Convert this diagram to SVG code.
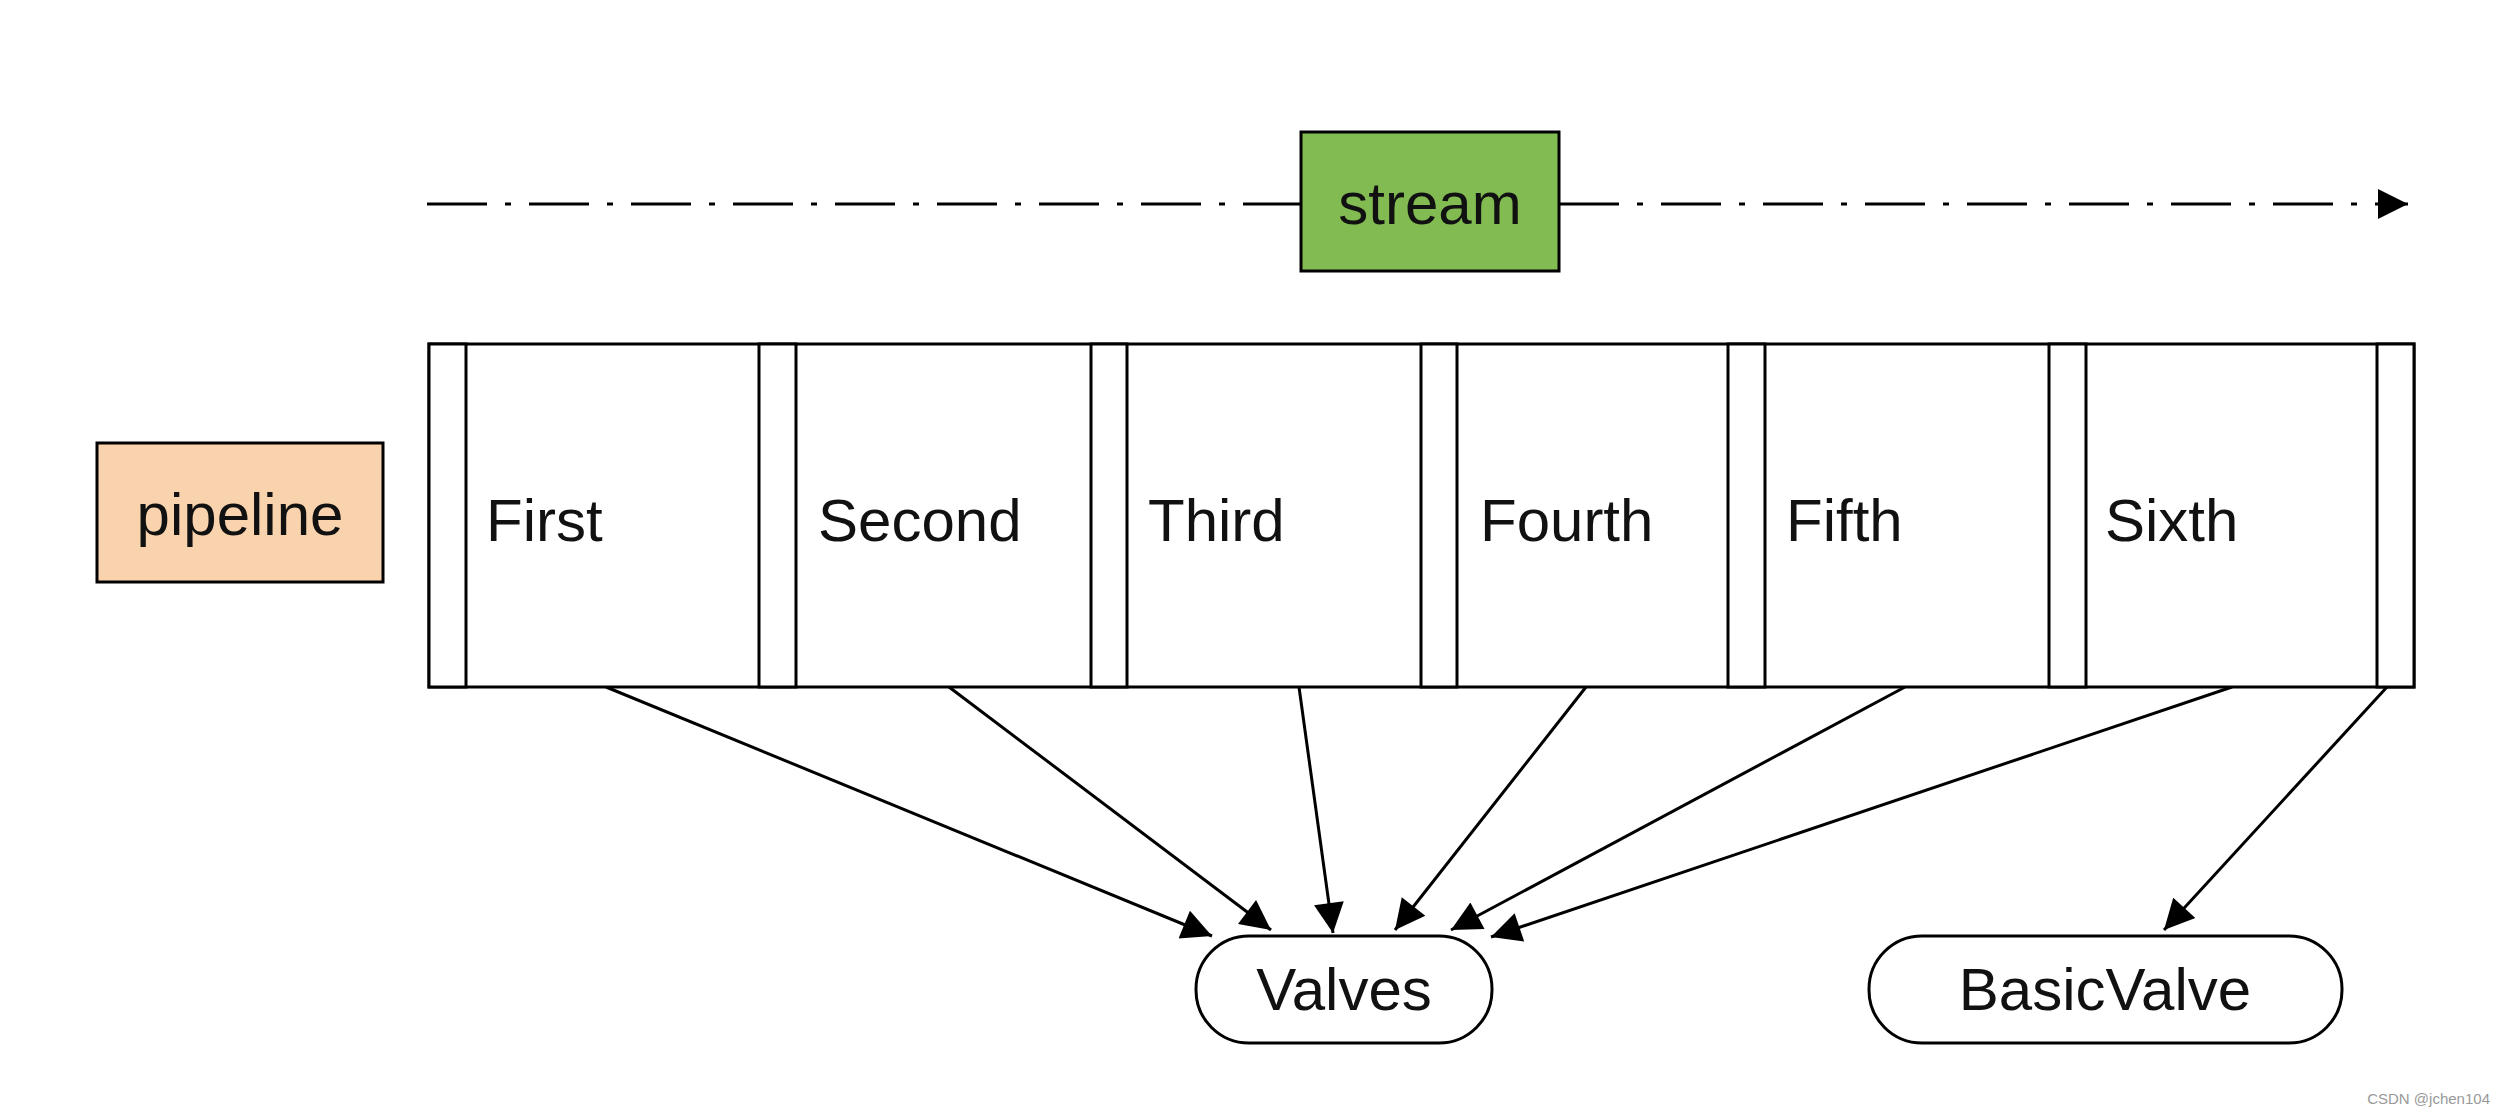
<svg xmlns="http://www.w3.org/2000/svg" width="2500" height="1114" viewBox="0 0 2500 1114">
<defs>
<style>
.b{fill:#fff;stroke:#000;stroke-width:3}
.t{font-family:"Liberation Sans",Arial,sans-serif;font-size:60px;fill:#111}
.c{stroke:#000;stroke-width:3;fill:none;marker-end:url(#a)}
</style>
<marker id="a" viewBox="0 0 10 10" refX="10" refY="5" markerWidth="12" markerHeight="12" markerUnits="userSpaceOnUse" orient="auto"><path d="M0,0L10,5L0,10z"/></marker>
<marker id="a2" viewBox="0 0 10 10" refX="10" refY="5" markerWidth="38" markerHeight="30" markerUnits="userSpaceOnUse" orient="auto"><path d="M0,0L10,5L0,10z"/></marker>
</defs>
<rect width="2500" height="1114" fill="#fff"/>
<g id="connectors">
<path d="M427,204H1301M1559,204H2408" stroke="#000" stroke-width="3" stroke-dasharray="60,18,6,18" fill="none" marker-end="url(#a2)"/>
<g style="marker-end:url(#a2)">
<path class="c" style="marker-end:url(#a2)" d="M606,687L1212,936"/>
<path class="c" style="marker-end:url(#a2)" d="M949,687L1271,930"/>
<path class="c" style="marker-end:url(#a2)" d="M1299,687L1333,933"/>
<path class="c" style="marker-end:url(#a2)" d="M1586,687L1395,930"/>
<path class="c" style="marker-end:url(#a2)" d="M1905,687L1451,930"/>
<path class="c" style="marker-end:url(#a2)" d="M2232,687L1491,937"/>
<path class="c" style="marker-end:url(#a2)" d="M2387,687L2164,930"/>
</g>
</g>
<g id="stream"><rect x="1301" y="132" width="258" height="139" fill="#82bb52" stroke="#000" stroke-width="3"/><text class="t" x="1430" y="224" text-anchor="middle">stream</text></g>
<g id="pipeline"><rect x="97" y="443" width="286" height="139" fill="#f8d3ad" stroke="#000" stroke-width="3"/><text class="t" x="240" y="535" text-anchor="middle">pipeline</text></g>
<g id="pipe">
<rect class="b" x="429" y="344" width="1985" height="343"/>
<rect class="b" x="429" y="344" width="37" height="343"/>
<rect class="b" x="759" y="344" width="37" height="343"/>
<rect class="b" x="1091" y="344" width="36" height="343"/>
<rect class="b" x="1421" y="344" width="36" height="343"/>
<rect class="b" x="1728" y="344" width="37" height="343"/>
<rect class="b" x="2049" y="344" width="37" height="343"/>
<rect class="b" x="2377" y="344" width="37" height="343"/>
</g>
<g id="first"><text class="t" x="486" y="541">First</text></g>
<g id="second"><text class="t" x="818" y="541">Second</text></g>
<g id="third"><text class="t" x="1148" y="541">Third</text></g>
<g id="fourth"><text class="t" x="1480" y="541">Fourth</text></g>
<g id="fifth"><text class="t" x="1786" y="541">Fifth</text></g>
<g id="sixth"><text class="t" x="2105" y="541">Sixth</text></g>
<g id="valves"><rect class="b" x="1196" y="936" width="296" height="107" rx="53"/><text class="t" x="1344" y="1010" text-anchor="middle">Valves</text></g>
<g id="basicvalve"><rect class="b" x="1869" y="936" width="473" height="107" rx="53"/><text class="t" x="2105" y="1010" text-anchor="middle">BasicValve</text></g>
<text x="2490" y="1104" text-anchor="end" font-family="Liberation Sans,Arial,sans-serif" font-size="15" fill="#999">CSDN @jchen104</text>
</svg>
